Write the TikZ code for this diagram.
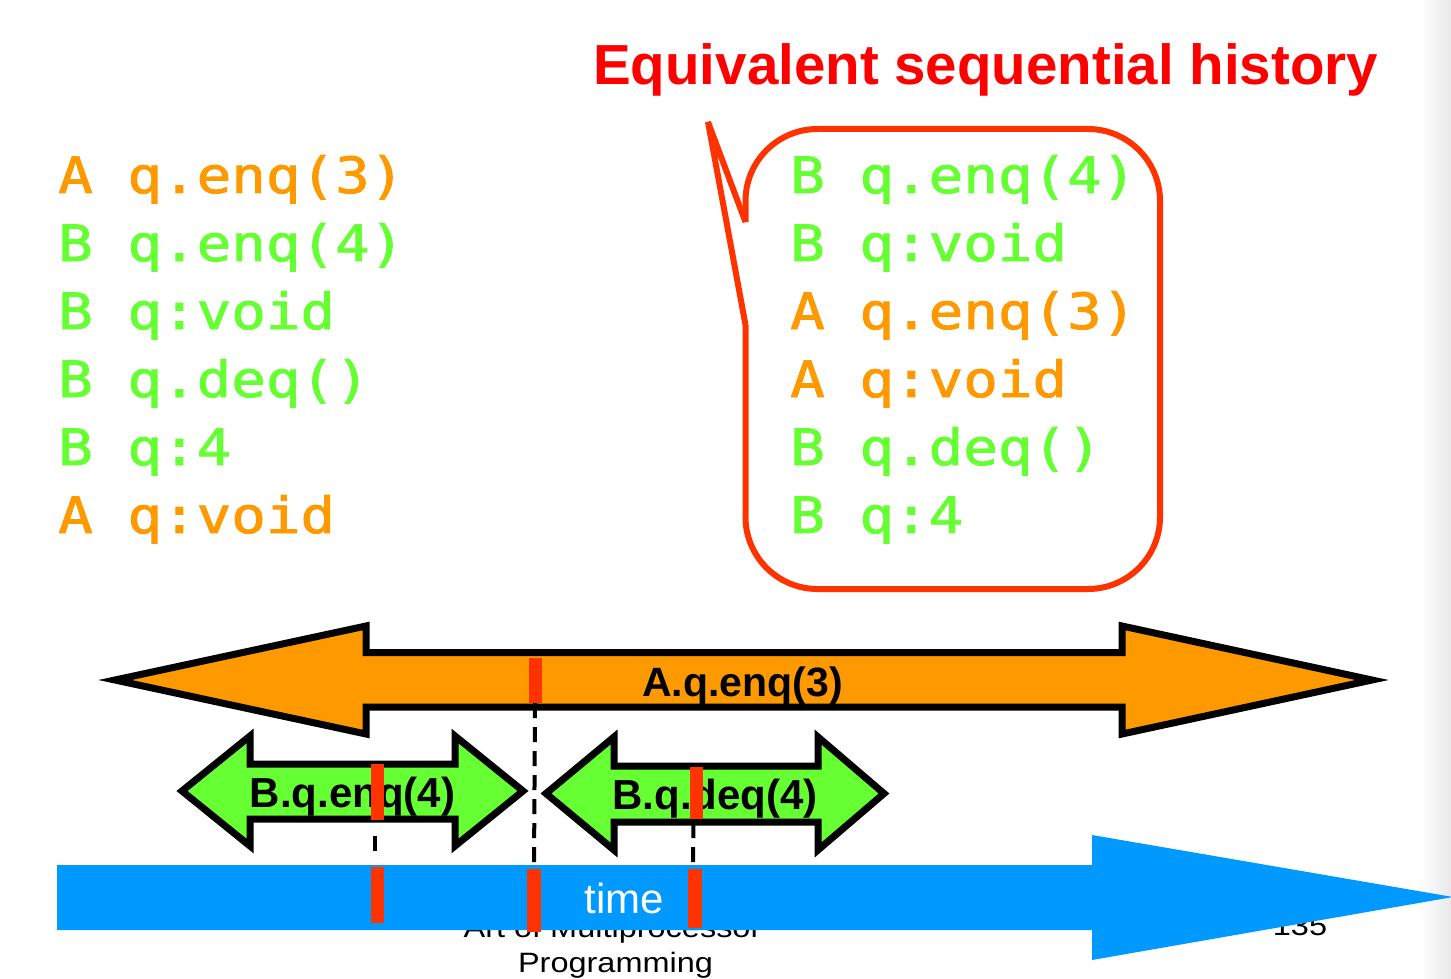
\documentclass[tikz,border=0pt]{standalone}
\usepackage{fontspec}
\setmainfont{Liberation Sans}
\newfontfamily\codefont[FakeBold=1.6]{DejaVu Sans Mono}
\usetikzlibrary{positioning}
\definecolor{seqorange}{RGB}{255,153,0}
\definecolor{seqgreen}{RGB}{102,255,51}
\definecolor{markred}{RGB}{255,51,0}
\definecolor{timeblue}{RGB}{0,153,255}
\definecolor{titlered}{RGB}{255,0,0}

\begin{document}
\begin{tikzpicture}[x=1pt,y=-1pt,
  code/.style={anchor=base west,inner sep=0pt,font=\codefont\fontsize{50}{60}\selectfont},
  interval/.style={draw=black,line width=7pt,line join=miter},
  redmark/.style={rectangle,fill=markred,draw=none,minimum width=13pt,inner sep=0pt},
  lbl/.style={anchor=base,inner sep=0pt,font=\bfseries\fontsize{42}{48}\selectfont},
  footer/.style={anchor=base,inner sep=0pt,font=\fontsize{28}{32}\selectfont},
  guide/.style={draw=black,line width=4pt,dash pattern=on 15pt off 9pt},
  bubble/.style={draw=markred,line width=6pt}
]
  \useasboundingbox (0,0) rectangle (1451,979);
  \shade[left color=white,right color=black!9] (1420,0) rectangle (1451,979);

  % Footer (partly hidden by the time arrow)
  \node[footer] (foot1) at (612.5,937) {\scalebox{1.16}[1]{Art of Multiprocessor}};
  \node[footer] (foot2) at (615.5,972) {\scalebox{1.16}[1]{Programming}};
  \node[footer] (page) at (1300,935) {\scalebox{1.16}[1]{135}};

  % Time axis
  \fill[timeblue] (57,865) -- (1092,865) -- (1092,835) -- (1453,897) -- (1092,960) -- (1092,930) -- (57,930) -- cycle;
  \node[anchor=base,inner sep=0pt,text=white,font=\fontsize{42}{48}\selectfont] (timelbl) at (624,913) {time};

  % Title
  \node[anchor=base west,inner sep=0pt,text=titlered,font=\bfseries\fontsize{56.5}{60}\selectfont] (title) at (593,85) {Equivalent sequential history};

  % Concurrent history
  \foreach \i/\who/\op/\col in {0/A/q.enq(3)/seqorange, 1/B/q.enq(4)/seqgreen, 2/B/q:void/seqgreen,
                                3/B/q.deq()/seqgreen, 4/B/q:4/seqgreen, 5/A/q:void/seqorange}
    \node[code,text=\col] (hist\i) at (58,193+68*\i) {\scalebox{1.15}[1]{\who\ \op}};

  % Sequential history
  \foreach \i/\who/\op/\col in {0/B/q.enq(4)/seqgreen, 1/B/q:void/seqgreen, 2/A/q.enq(3)/seqorange,
                                3/A/q:void/seqorange, 4/B/q.deq()/seqgreen, 5/B/q:4/seqgreen}
    \node[code,text=\col] (seq\i) at (790,193+68*\i) {\scalebox{1.15}[1]{\who\ \op}};

  % Speech bubble
  \draw[bubble,rounded corners=72pt] (745.5,222) -- (745.5,129) -- (1160,129) -- (1160,589) -- (745.5,589) -- (745.5,325);
  \draw[bubble,line join=miter] (745.5,222) -- (708,122) -- (745.5,325);

  % Method intervals
  \draw[interval,fill=seqorange] (115,680) -- (366,626) -- (366,652.5) -- (1122,652.5) -- (1122,626) -- (1372,680)
    -- (1122,734) -- (1122,707) -- (366,707) -- (366,734) -- cycle;
  \draw[interval,fill=seqgreen] (182,791) -- (250,736) -- (250,764) -- (455,764) -- (455,736) -- (523,791)
    -- (455,846) -- (455,819) -- (250,819) -- (250,846) -- cycle;
  \draw[interval,fill=seqgreen] (546,793.5) -- (614,737) -- (614,766) -- (818,766) -- (818,737) -- (884,793.5)
    -- (818,850) -- (818,822) -- (614,822) -- (614,850) -- cycle;
  \node[lbl,font=\bfseries\fontsize{41}{48}\selectfont] (lblA) at (742.5,696) {A.q.enq(3)};
  \node[lbl] (lblBe) at (352.5,807) {B.q.enq(4)};
  \node[lbl] (lblBd) at (715,809) {B.q.deq(4)};

  % Linearization points
  \node[redmark,minimum height=45pt] (mA) at (535,680.5) {};
  \node[redmark,minimum height=56pt] (mBe) at (377.5,792) {};
  \node[redmark,minimum height=52pt] (mBd) at (696.5,793) {};
  \node[redmark,minimum height=56pt] (tBe) at (377.5,895) {};
  \node[redmark,minimum width=14pt,minimum height=63pt] (tA) at (534,900.5) {};
  \node[redmark,minimum width=14pt,minimum height=59pt] (tBd) at (695,898.5) {};
  \draw[guide] (mA.south) -- (tA.north);
  \draw[guide,shorten <=16pt,shorten >=10pt] ([xshift=-3pt]mBe.south) -- ([xshift=-3pt]tBe.north);
  \draw[guide,shorten <=4pt] ([xshift=-3pt]mBd.south) -- ([xshift=-2pt]tBd.north);
\end{tikzpicture}
\end{document}
